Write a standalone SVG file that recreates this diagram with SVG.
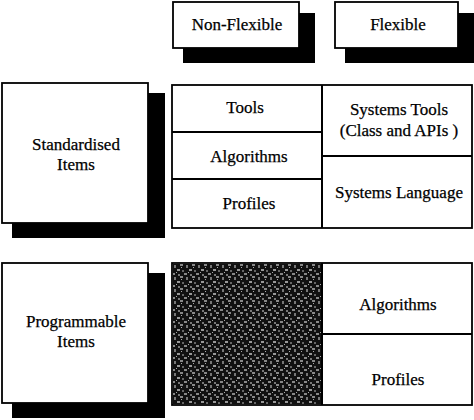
<svg xmlns="http://www.w3.org/2000/svg" width="474" height="420" viewBox="0 0 474 420">
<defs>
<style>
.box{fill:#fff;stroke:#000;stroke-width:1.8}
.sh{fill:#000}
.ln{stroke:#000;stroke-width:2;fill:none}
text{font-family:"Liberation Serif","Times New Roman",serif;font-size:17px;fill:#000;stroke:#000;stroke-width:0.25;text-anchor:middle}
</style>
<pattern id="dither" width="12" height="12" patternUnits="userSpaceOnUse">
<rect width="12" height="12" fill="#111"/>
<rect x="0" y="0" width="3" height="2" fill="#888"/>
<rect x="6" y="1" width="2" height="3" fill="#777"/>
<rect x="9" y="5" width="3" height="2" fill="#999"/>
<rect x="2" y="6" width="2" height="2" fill="#666"/>
<rect x="4" y="9" width="3" height="2" fill="#888"/>
<rect x="10" y="10" width="2" height="2" fill="#777"/>
<rect x="1" y="3" width="1" height="1" fill="#aaa"/>
<rect x="8" y="8" width="1" height="1" fill="#aaa"/>
</pattern>
</defs>
<rect width="474" height="420" fill="#fff"/>

<g id="non-flexible">
<rect class="sh" x="183" y="13" width="132" height="50"/>
<rect class="box" x="173" y="2" width="126" height="46"/>
<text x="237" y="30">Non-Flexible</text>
</g>

<g id="flexible">
<rect class="sh" x="345" y="13" width="129" height="50"/>
<rect class="box" x="335" y="2" width="123" height="46"/>
<text x="398" y="30">Flexible</text>
</g>

<g id="standardised-items">
<rect class="sh" x="12" y="93" width="153" height="145"/>
<rect class="box" x="2" y="83" width="146" height="140"/>
<text x="76" y="150">Standardised</text>
<text x="76" y="170">Items</text>
</g>

<g id="programmable-items">
<rect class="sh" x="12" y="273" width="153" height="145"/>
<rect class="box" x="2" y="263" width="146" height="140"/>
<text x="76" y="327">Programmable</text>
<text x="76" y="347">Items</text>
</g>

<g id="standardised-table">
<rect class="box" x="172" y="85" width="300" height="143" stroke-width="2"/>
<g id="tools"><text x="245" y="113">Tools</text></g>
<g id="algorithms-1"><text x="249" y="162">Algorithms</text></g>
<g id="profiles-1"><text x="249" y="209">Profiles</text></g>
<g id="systems-tools"><text x="399" y="115">Systems Tools</text><text x="399" y="136">(Class and APIs )</text></g>
<g id="systems-language"><text x="399" y="198">Systems Language</text></g>
</g>

<g id="programmable-table">
<rect class="box" x="172" y="263" width="300" height="142" stroke-width="2"/>
<rect x="173" y="264" width="149" height="140" fill="url(#dither)"/>
<g id="algorithms-2"><text x="398" y="310">Algorithms</text></g>
<g id="profiles-2"><text x="398" y="385">Profiles</text></g>
</g>

<g id="connectors">
<line class="ln" x1="322" y1="85" x2="322" y2="228"/>
<line class="ln" x1="172" y1="132" x2="322" y2="132"/>
<line class="ln" x1="172" y1="179" x2="322" y2="179"/>
<line class="ln" x1="322" y1="156" x2="472" y2="156"/>
<line class="ln" x1="322" y1="263" x2="322" y2="405"/>
<line class="ln" x1="322" y1="334" x2="472" y2="334"/>
</g>
</svg>
